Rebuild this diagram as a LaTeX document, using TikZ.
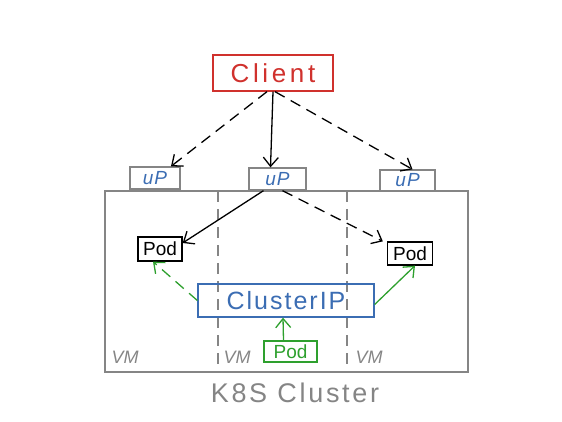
\documentclass[tikz,border=0pt]{standalone}
\usepackage{fontspec}
\setmainfont{Liberation Sans}
\usepackage{xcolor}
\usetikzlibrary{arrows.meta,positioning}
\definecolor{sketchred}{HTML}{D0312D}
\definecolor{sketchblue}{HTML}{3B6DB3}
\definecolor{sketchgreen}{HTML}{2EA02E}
\definecolor{sketchgray}{HTML}{858585}

\begin{document}
\begin{tikzpicture}[
  x=1pt, y=-1pt,
  box/.style={
    rectangle, draw, line width=1.3pt, inner sep=0pt,
    align=center
  },
  ipbox/.style={
    box, draw=sketchgray, text=sketchblue,
    minimum width=52pt, minimum height=22pt,
    font=\fontsize{19}{19}\selectfont\itshape\addfontfeatures{LetterSpace=6}
  },
  podbox/.style={
    box, minimum width=45pt, minimum height=23pt,
    font=\fontsize{19}{19}\selectfont
  },
  vmlabel/.style={anchor=west, text=sketchgray, font=\fontsize{18}{18}\selectfont\itshape},
  arrow/.style={-{Straight Barb[length=9pt,width=15pt]}, line width=1.3pt},
  dasharrow/.style={arrow, dash pattern=on 11pt off 7pt}
]
\useasboundingbox (0,0) rectangle (562,422);

% Client
\node[box, draw=sketchred, text=sketchred, minimum width=120pt, minimum height=36pt,
  font=\fontsize{26}{26}\selectfont\addfontfeatures{LetterSpace=14}] (client) at (273,73) {Client};

% Cluster with VM columns
\node[box, draw=sketchgray, line width=1.6pt, minimum width=363pt, minimum height=181pt] (cluster) at (286.5,281.5) {};
\draw[sketchgray, line width=1.4pt, dash pattern=on 11pt off 7pt] (218,191) -- (218,372);
\draw[sketchgray, line width=1.4pt, dash pattern=on 11pt off 7pt] (347,191) -- (347,372);

% Node IPs on top of the VMs
\node[ipbox, minimum width=50pt] (ipl) at (155,178) {uP};
\node[ipbox, minimum width=57pt] (ipm) at (277.5,179) {uP};
\node[ipbox, minimum width=55pt, minimum height=21pt] (ipr) at (407.5,180.5) {uP};

% Pods and service
\node[podbox, minimum width=44pt, minimum height=24pt] (podl) at (160,249) {Pod};
\node[podbox] (podr) at (410,253.5) {Pod};
\node[box, draw=sketchblue, text=sketchblue, minimum width=176pt, minimum height=33pt,
  font=\fontsize{25}{25}\selectfont\addfontfeatures{LetterSpace=8}] (cip) at (286,300.5) {ClusterIP};
\node[podbox, draw=sketchgreen, text=sketchgreen, minimum width=53pt, minimum height=21pt] (podg) at (290.5,351.5) {Pod};

% Labels
\node[vmlabel] (vml) at (108,357) {VM};
\node[vmlabel] (vmm) at (220,357) {VM};
\node[vmlabel] (vmr) at (352,357) {VM};
\node[text=sketchgray, font=\fontsize{27}{27}\selectfont\addfontfeatures{LetterSpace=10}] (k8s) at (295,393) {K8S Cluster};

% Arrows
\draw[dasharrow] ([xshift=-6pt]client.south) -- ([xshift=16pt]ipl.north);
\draw[arrow] (client.south) -- ([xshift=-7pt]ipm.north);
\draw[dasharrow] ([xshift=2pt]client.south) -- ([xshift=5pt]ipr.north);
\draw[arrow] ([xshift=-14pt]ipm.south) -- ([yshift=6pt]podl.east);
\draw[dasharrow] ([xshift=5pt]ipm.south) -- ([xshift=-4pt]podr.north west);
\draw[dasharrow, sketchgreen] (cip.west) -- ([xshift=-7pt]podl.south);
\draw[arrow, sketchgreen] ([yshift=-4pt]cip.east) -- ([xshift=5pt]podr.south);
\draw[arrow, sketchgreen] ([xshift=-7pt]podg.north) -- ([xshift=-3pt]cip.south);

\end{tikzpicture}
\end{document}
